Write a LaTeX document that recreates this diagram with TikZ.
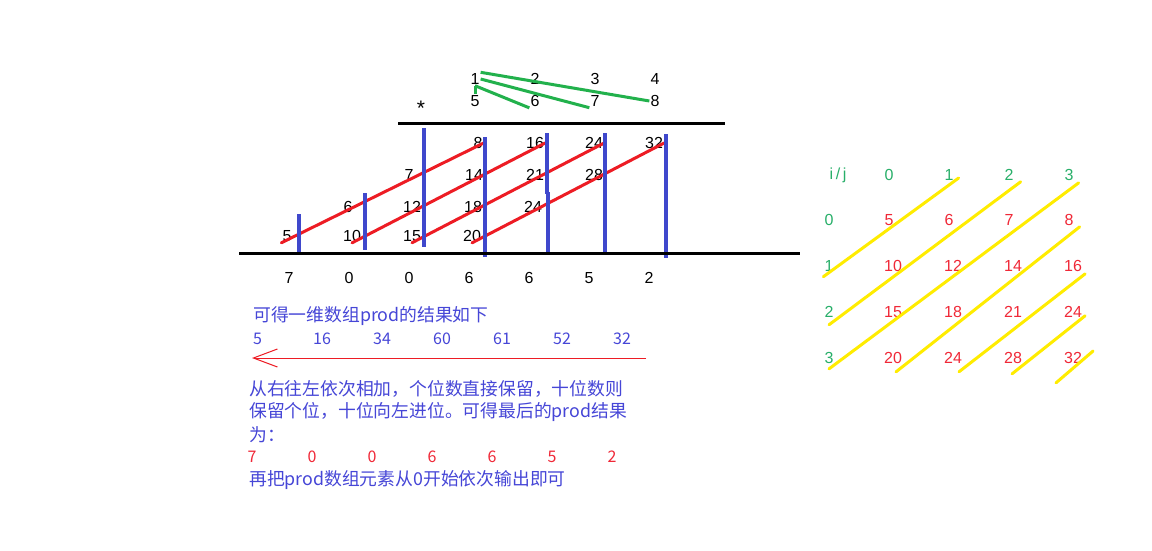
\documentclass[tikz,border=0pt]{standalone}
\usepackage{fontspec}
\setmainfont{Liberation Sans}
\newfontfamily\cjk{Noto Sans CJK SC}
\usetikzlibrary{arrows.meta}

\definecolor{paintred}{RGB}{237,28,36}
\definecolor{paintblue}{RGB}{63,72,204}
\definecolor{paintgreen}{RGB}{34,177,76}
\definecolor{paintyellow}{RGB}{255,236,0}
\definecolor{noteblue}{RGB}{70,70,215}
\definecolor{notered}{RGB}{240,40,55}
\definecolor{tabgreen}{RGB}{40,175,105}

\begin{document}
\begin{tikzpicture}[x=1pt,y=-1pt,
  num/.style={font=\fontsize{16}{19}\selectfont, inner sep=1pt},
  note/.style={font=\cjk\fontsize{17.8}{20}\selectfont, text=noteblue, inner sep=0pt, anchor=west},
  notenum/.style={font=\cjk\fontsize{16}{19}\selectfont, inner sep=1pt},
  tab/.style={font=\fontsize{16}{19}\selectfont, inner sep=1pt},
  redline/.style={paintred,line width=3pt,line cap=round},
  barline/.style={paintblue,line width=3.5pt},
  greenline/.style={paintgreen,line width=3pt},
  yellowline/.style={paintyellow,line width=3pt,line cap=round}]

\useasboundingbox [fill=white] (0,0) rectangle (1152,551);

% the two factors
\foreach \v/\x in {1/475,2/535,3/595,4/655}
  \node [num] (a\v) at (\x,79) {\v};
\foreach \v/\x in {5/475,6/535,7/595,8/655}
  \node [num] (b\v) at (\x,101) {\v};
\node [num, font=\fontsize{21}{24}\selectfont] (times) at (421,108) {*};

\draw [greenline] (a1.north east) -- (b8.west);
\draw [greenline] (a1.east) -- (b7.south west);
\draw [greenline] (a1.south) -- (b6.south west);
\draw [greenline] (a1.south) -- (b5.north);

\draw [line width=3pt] (398,123) -- (725,123);

% partial products
\foreach \v/\x [count=\i] in {8/478,16/535,24/594,32/654}
  \node [num] (p1\i) at (\x,143) {\v};
\foreach \v/\x [count=\i] in {7/409,14/474,21/535,28/594}
  \node [num] (p2\i) at (\x,175) {\v};
\foreach \v/\x [count=\i] in {6/348,12/412,18/473,24/533}
  \node [num] (p3\i) at (\x,207) {\v};
\foreach \v/\x [count=\i] in {5/287,10/352,15/412,20/472}
  \node [num] (p4\i) at (\x,236) {\v};

\draw [redline] (p41.south west) -- (p11.east);
\draw [redline] (p42.south) -- (p12.east);
\draw [redline] (p43.south) -- (p13.east);
\draw [redline] (p44.south) -- (p14.east);

\draw [barline] (299,214) -- (299,253);
\draw [barline] (365,193) -- (365,250);
\draw [barline] (424,128) -- (424,247);
\draw [barline] (485,137) -- (485,257);
\draw [barline] (547,133) -- (547,194);
\draw [barline] (548,192) -- (548,252);
\draw [barline] (605,133) -- (605,252);
\draw [barline] (666,134) -- (666,258);

\draw [line width=3pt] (239,253) -- (800,253);

\foreach \d [count=\i] in {7,0,0,6,6,5,2}
  \node [num] (d\i) at (229+60*\i,278) {\d};

% notes
\node [note] (line1) at (253,316) {可得一维数组prod的结果如下};
\foreach \d [count=\i] in {5,16,34,60,61,52,32}
  \node [notenum, text=noteblue, anchor=west] (s\i) at (192+60*\i,339) {\d};

\coordinate (arrS) at (646,358);
\coordinate (arrE) at (252,358);
\draw [paintred,line width=1pt,-{Straight Barb[length=24pt,width=18pt,line width=1pt]}] (arrS) -- (arrE);

\node [note] (line2) at (249,389) {从右往左依次相加，个位数直接保留，十位数则};
\node [note] (line3) at (249,412) {保留个位，十位向左进位。可得最后的prod结果};
\node [note] (line4) at (249,435) {为：};
\foreach \d [count=\i] in {7,0,0,6,6,5,2}
  \node [notenum, text=notered] (r\i) at (192+60*\i,457) {\d};
\node [note] (line5) at (249,480) {再把prod数组元素从0开始依次输出即可};

% table i/j
\node [tab, text=tabgreen] (ij) at (838,175) {i\,/\,j};
\foreach \j/\x in {0/889,1/949,2/1009,3/1069}
  \node [tab, text=tabgreen] (h\j) at (\x,175) {\j};
\foreach \i/\y in {0/220,1/266,2/312,3/358}
  \node [tab, text=tabgreen] (l\i) at (829,\y) {\i};
\foreach \v/\x [count=\j from 0] in {5/889,6/949,7/1009,8/1069}
  \node [tab, text=notered] (v0\j) at (\x,220) {\v};
\foreach \v/\x [count=\j from 0] in {10/893,12/953,14/1013,16/1073}
  \node [tab, text=notered] (v1\j) at (\x,266) {\v};
\foreach \v/\x [count=\j from 0] in {15/893,18/953,21/1013,24/1073}
  \node [tab, text=notered] (v2\j) at (\x,312) {\v};
\foreach \v/\x [count=\j from 0] in {20/893,24/953,28/1013,32/1073}
  \node [tab, text=notered] (v3\j) at (\x,358) {\v};

\draw [yellowline] ([shift={(0,4)}]l1.south west) -- ([shift={(4,3)}]h1.east);
\draw [yellowline] ([shift={(0,6)}]l2.south) -- ([shift={(6,0)}]h2.south east);
\draw [yellowline] ([shift={(0,4)}]l3.south) -- ([shift={(4,1)}]h3.south east);
\draw [yellowline] ([shift={(3,7)}]v30.south) -- ([shift={(5,0)}]v03.south east);
\draw [yellowline] ([shift={(6,7)}]v31.south) -- ([shift={(2,1)}]v13.south east);
\draw [yellowline] ([shift={(-1,9)}]v32.south) -- ([shift={(2,-3)}]v23.south east);
\draw [yellowline] ([shift={(-17,18)}]v33.south) -- ([shift={(10,-7)}]v33.east);

\end{tikzpicture}
\end{document}
